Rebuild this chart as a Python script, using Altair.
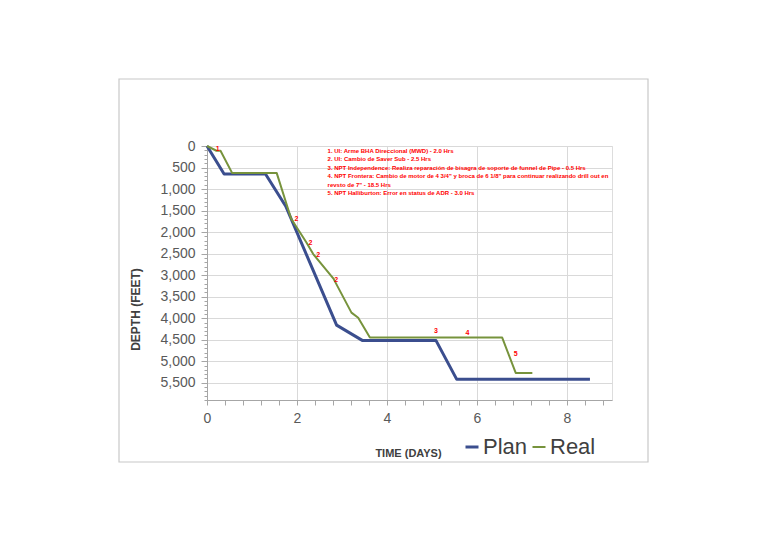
import altair as alt
import pandas as pd

# ---- data ----
plan_days = [0, 0.38, 1.30, 1.75, 2.88, 3.46, 5.09, 5.55, 8.51]
plan_depth = [0, 650, 650, 1400, 4160, 4520, 4520, 5420, 5420]

real_days = [0, 0.21, 0.30, 0.56, 1.55, 1.87, 2.21, 2.36, 2.81, 3.21, 3.36, 3.62, 6.56, 6.86, 7.23]
real_depth = [0, 110, 110, 630, 630, 1690, 2240, 2510, 3080, 3870, 3990, 4450, 4450, 5270, 5270]

event_labels = ["1", "2", "2", "2", "2", "3", "4", "5"]
event_days = [0.24, 1.99, 2.30, 2.47, 2.87, 5.09, 5.79, 6.86]
event_depth = [70, 1700, 2245, 2540, 3110, 4300, 4340, 4830]

notes = [
    "1. UI: Arme BHA Direccional (MWD) - 2.0 Hrs",
    "2. UI: Cambio de Saver Sub - 2.5 Hrs",
    "3. NPT Independence: Realiza reparación de bisagra de soporte de funnel de Pipe - 0.5 Hrs",
    "4. NPT Frontera: Cambio de motor de 4 3/4\" y broca de 6 1/8\" para continuar realizando drill out en",
    "revsto de 7\" -  18.5 Hrs",
    "5. NPT Halliburton: Error en status de ADR - 3.0 Hrs",
]
notes_day = 2.68
notes_depth = 116

series_names = ["Plan", "Real"]
series_colors = ["#3B4E8E", "#77933C"]

x_ticks = [round(i * 0.4, 1) for i in range(0, 23)]
y_ticks = list(range(0, 6000, 100))

# ---- tables ----
lines_df = pd.concat([
    pd.DataFrame({"dias": plan_days, "prof": plan_depth, "serie": "Plan"}),
    pd.DataFrame({"dias": real_days, "prof": real_depth, "serie": "Real"}),
])
events_df = pd.DataFrame({"dias": event_days, "prof": event_depth, "txt": event_labels})
notes_df = pd.DataFrame({"dias": [notes_day], "prof": [notes_depth], "txt": ["\n".join(notes)]})

GRAY_TXT = "#595959"
AXIS_COL = "#a6a6a6"
FONT = "Liberation Sans"

x_enc = alt.X(
    "dias:Q",
    scale=alt.Scale(domain=[0, 9], nice=False, zero=False),
    axis=alt.Axis(
        values=x_ticks,
        tickCount=200,
        labelOverlap=False,
        labelFlush=False,
        labelExpr="datum.value % 2 === 0 ? format(datum.value, 'd') : ''",
        title="TIME (DAYS)",
        titleFont=FONT,
        titleFontSize=11,
        titleFontWeight="bold",
        titleColor="#404040",
        titleX=201,
        titleY=53,
        titleBaseline="middle",
        labelFont=FONT,
        labelFontSize=14,
        labelColor=GRAY_TXT,
        labelPadding=6,
        tickSize=5,
        tickColor=AXIS_COL,
        domainColor=AXIS_COL,
        gridColor="#d9d9d9",
        gridOpacity={"condition": {"test": "datum.value % 2 === 0 && datum.value > 0", "value": 1}, "value": 0},
    ),
)

y_enc = alt.Y(
    "prof:Q",
    scale=alt.Scale(domain=[0, 5900], reverse=True, nice=False, zero=False),
    axis=alt.Axis(
        values=y_ticks,
        tickCount=200,
        labelOverlap=False,
        labelFlush=False,
        labelExpr="datum.value % 500 === 0 ? format(datum.value, ',') : ''",
        title="DEPTH (FEET)",
        titleFont=FONT,
        titleFontSize=12,
        titleFontWeight="bold",
        titleColor="#404040",
        titleX=-72,
        titleY=163,
        titleBaseline="middle",
        titleAlign="center",
        labelFont=FONT,
        labelFontSize=14,
        labelColor=GRAY_TXT,
        labelPadding=6,
        tickSize={"condition": {"test": "datum.value % 500 === 0", "value": 6}, "value": 3},
        tickColor=AXIS_COL,
        domainColor=AXIS_COL,
        gridColor="#d9d9d9",
        gridOpacity={"condition": {"test": "datum.value % 500 === 0", "value": 1}, "value": 0},
    ),
)

lines = alt.Chart(lines_df).mark_line(strokeJoin="round").encode(
    x=x_enc,
    y=y_enc,
    color=alt.Color(
        "serie:N",
        scale=alt.Scale(domain=series_names, range=series_colors),
        legend=alt.Legend(
            title=None,
            orient="none",
            legendX=254,
            legendY=290,
            direction="horizontal",
            symbolType="stroke",
            symbolSize=169,
            symbolStrokeWidth=2.5,
            labelFont=FONT,
            labelFontSize=22,
            labelColor="#404040",
            labelOffset=0,
            columnPadding=0,
            padding=0,
        ),
    ),
    strokeWidth=alt.StrokeWidth(
        "serie:N", scale=alt.Scale(domain=series_names, range=[3, 2]), legend=None
    ),
)

events = alt.Chart(events_df).mark_text(
    font=FONT, fontSize=7, fontWeight="bold", color="#ff0000"
).encode(x="dias:Q", y="prof:Q", text="txt:N")

notes_layer = alt.Chart(notes_df).mark_text(
    font=FONT, fontSize=6, fontWeight="bold", color="#ff0000",
    align="left", baseline="middle", lineBreak="\n", lineHeight=8.5,
).encode(x="dias:Q", y="prof:Q", text="txt:N")

frame = alt.Chart(pd.DataFrame({"k": [0]})).mark_rect(
    fillOpacity=0, stroke="#c8c8c8", strokeWidth=1.2
).encode(x=alt.value(-88), x2=alt.value(441), y=alt.value(-67), y2=alt.value(316))

chart = alt.layer(frame, lines, events, notes_layer).properties(
    width=405,
    height=254,
    autosize=alt.AutoSizeParams(type="none"),
    padding={"left": 199, "top": 138, "right": 148, "bottom": 135},
).configure_view(stroke=None).configure(background="white")

chart.save("out.html", embed_options={"renderer": "svg", "actions": False})
